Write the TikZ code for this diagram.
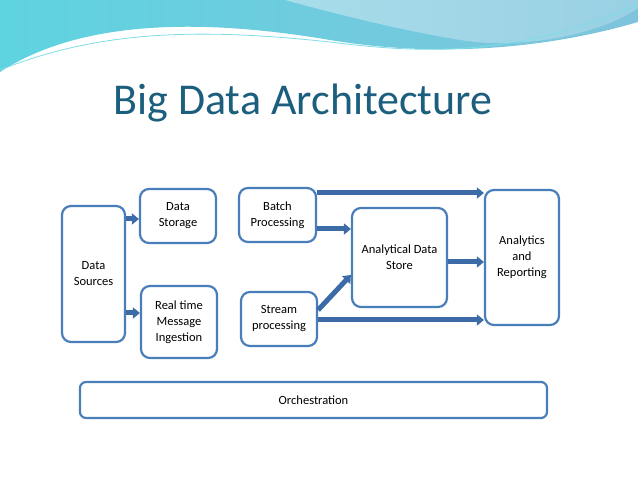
\documentclass[tikz,border=0pt]{standalone}
\usepackage{fontspec}
\setmainfont{Carlito}
\usetikzlibrary{arrows.meta}
\definecolor{boxblue}{HTML}{4A7EBB}
\definecolor{arrowblue}{HTML}{3C6BA8}
\definecolor{titleteal}{HTML}{1B5E7E}
\definecolor{wavea}{HTML}{7FC4DC}
\definecolor{waveb}{HTML}{5ED3E0}
\definecolor{wavec}{HTML}{A8DDEA}

\begin{document}
\begin{tikzpicture}[x=1pt,y=-1pt,
  box/.style={draw=boxblue,line width=2.2pt,rounded corners=9pt,fill=white,
    align=center,font=\fontsize{12.5}{16}\selectfont,inner sep=0pt},
  flow/.style={draw=arrowblue,line width=5pt,-{Triangle[length=7pt,width=11pt]}}]

  \useasboundingbox (0,0) rectangle (638,478);
  % slide background and waves
  \fill[white] (0,0) rectangle (638,478);
  \shade[left color=waveb,right color=wavea]
    (0,0) -- (638,0) -- (638,22) .. controls (560,45) and (450,60) .. (330,40)
    .. controls (200,18) and (80,20) .. (0,72) -- cycle;
  \shade[left color=wavec,right color=wavea!80]
    (285,0) -- (638,0) -- (638,8) .. controls (600,35) and (520,50) .. (460,40)
    .. controls (400,30) and (340,15) .. (285,0) -- cycle;
  \draw[waveb!80,line width=0.8pt] (0,70) .. controls (100,30) and (200,28) .. (330,42)
    .. controls (430,55) and (520,55) .. (638,5);

  \node[text=titleteal,font=\fontsize{44}{46}\selectfont,anchor=west] (title) at (110,103) {Big Data Architecture};

  % diagram panel
  \fill[white] (52,168) rectangle (568,428);

  \node[box,minimum width=63pt,minimum height=136pt] (src) at (93.5,274) {Data\\Sources};
  \node[box,minimum width=76pt,minimum height=54pt] (stor) at (178,216) {Data\\Storage};
  \node[box,minimum width=76pt,minimum height=72pt] (ingest) at (179,322) {Real time\\Message\\Ingestion};
  \node[box,minimum width=77pt,minimum height=54pt] (batch) at (277.5,215) {Batch\\Processing};
  \node[box,minimum width=76pt,minimum height=54pt] (stream) at (279,319) {Stream\\processing};
  \node[box,minimum width=95pt,minimum height=99pt] (store) at (399.5,257.5) {Analytical Data\\Store};
  \node[box,minimum width=74pt,minimum height=135pt] (report) at (522,257.5) {Analytics\\and\\Reporting};
  \node[box,minimum width=467pt,minimum height=36pt,rounded corners=6pt] (orch) at (313.5,400) {Orchestration};

  \draw[flow] (src.east |- 0,219) -- (stor.west |- 0,219);
  \draw[flow] (src.east |- 0,313) -- (ingest.west |- 0,313);
  \draw[flow] (batch.east |- 0,193) -- (report.west |- 0,193);
  \draw[flow] (batch.east |- 0,229) -- (store.west |- 0,229);
  \draw[flow] (stream.east |- 0,310) -- (store.west |- 0,275);
  \draw[flow] (stream.east |- 0,320) -- (report.west |- 0,320);
  \draw[flow] (store.east |- 0,262) -- (report.west |- 0,262);
\end{tikzpicture}
\end{document}
